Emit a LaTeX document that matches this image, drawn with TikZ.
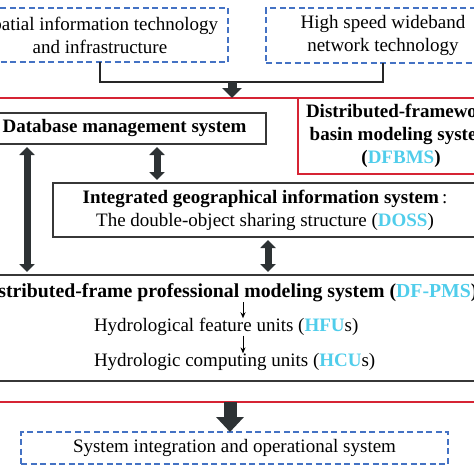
\documentclass[tikz,border=0pt]{standalone}
\usepackage{fontspec}
\setmainfont{Liberation Serif}
\usepackage[dvipsnames]{xcolor}
\usepackage{tikz}
\usetikzlibrary{arrows.meta}
\usetikzlibrary{calc}

\definecolor{dashblue}{RGB}{68,114,196}
\definecolor{framered}{RGB}{214,36,52}
\definecolor{acrocyan}{RGB}{80,205,235}
\definecolor{arrowgray}{RGB}{45,50,52}
\definecolor{boxgray}{RGB}{55,55,55}
\newcommand{\bodyfont}{\fontsize{19}{23}\selectfont}
\newcommand{\acrotxt}[1]{\textcolor{acrocyan}{\textbf{#1}}}

\begin{document}
\begin{tikzpicture}[
            x=1pt, y=-1pt, font=\bodyfont,
            dashbox/.style={draw=dashblue, line width=1.3pt, dash pattern=on 6pt off 3.5pt, align=center, inner sep=0pt, outer sep=0pt},
            plainbox/.style={draw=boxgray, line width=1.3pt, align=center, inner sep=0pt, outer sep=0pt},
            redframe/.style={draw=framered, line width=1.6pt, align=center, inner sep=0pt, outer sep=0pt},
            textline/.style={inner sep=0pt, outer sep=0pt},
            joinline/.style={draw=black!85, line width=1.3pt},
            fatarrow/.style={draw=arrowgray, line width=9pt, -{Triangle[width=19pt, length=10pt]}},
            bigarrow/.style={draw=arrowgray, line width=13pt, -{Triangle[width=27pt, length=15pt]}},
            dblarrow/.style={draw=arrowgray, line width=7pt, {Triangle[width=15pt, length=8pt]}-{Triangle[width=15pt, length=8pt]}, shorten <=3pt, shorten >=3pt},
            thinarrow/.style={draw=black, line width=0.9pt, -{Stealth[width=5pt, length=6pt]}},
        ]
            \useasboundingbox (0,0) rectangle (474,474);
            \clip (0,0) rectangle (474,474);

            % --- Tecnologias de base (arriba) ---
            \node[dashbox, minimum width=256pt, minimum height=54pt] (spatial) at (100,35) {Spatial information technology\\and infrastructure};
            \node[dashbox, minimum width=234pt, minimum height=55pt] (network) at (383,35.5) {High speed wideband\\network technology};
            \coordinate (join) at (232,82);
            \draw[joinline] (spatial.south) |- (join) -| (network.south);

            % --- Marco rojo y sistema DFBMS ---
            \node[redframe, minimum width=500pt, minimum height=304pt] (frame) at (240,250) {};
            \draw[fatarrow] (join) -- (join |- frame.north);
            \node[redframe, minimum width=206pt, minimum height=76pt, font=\bodyfont\bfseries] (dfbms) at (401,136) {Distributed-framework\\basin modeling system\\(\acrotxt{DFBMS})};

            % --- Cajas internas ---
            \node[plainbox, minimum width=283pt, minimum height=31pt, font=\bodyfont\bfseries] (dbms) at (124.5,128.5) {Database management system};
            \node[plainbox, minimum width=424pt, minimum height=54pt] (gis) at (265,210) {\textbf{Integrated geographical information system}\,:\\The double-object sharing structure (\acrotxt{DOSS})};
            \node[plainbox, minimum width=520pt, minimum height=106pt] (pms) at (235,328) {};

            % --- Textos del sistema DF-PMS ---
            \node[textline, font=\fontsize{19.8}{23}\selectfont\bfseries] (pmstitle) at (228,293) {Distributed-frame professional modeling system (\acrotxt{DF-PMS})};
            \node[textline, anchor=west] (hfu) at (94,327) {Hydrological feature units (\acrotxt{HFU}s)};
            \node[textline, anchor=west] (hcu) at (94,362) {Hydrologic computing units (\acrotxt{HCU}s)};
            \draw[thinarrow] (243,0 |- pmstitle.south) -- (243,0 |- hfu.north);
            \draw[thinarrow] (243,0 |- hfu.south) -- (243,0 |- hcu.north);

            % --- Flechas dobles entre cajas ---
            \foreach \x/\a/\b in {27/dbms/pms, 157/dbms/gis, 268/gis/pms} {
                \draw[dblarrow] (\x,0 |- \a.south) -- (\x,0 |- \b.north);
            }

            % --- Sistema de integracion (abajo) ---
            \node[dashbox, minimum width=427pt, minimum height=32pt] (sysint) at (234.5,448) {System integration and operational system};
            \draw[bigarrow] (frame.south -| 230,0) -- (230,0 |- sysint.north);
        \end{tikzpicture}
\end{document}
